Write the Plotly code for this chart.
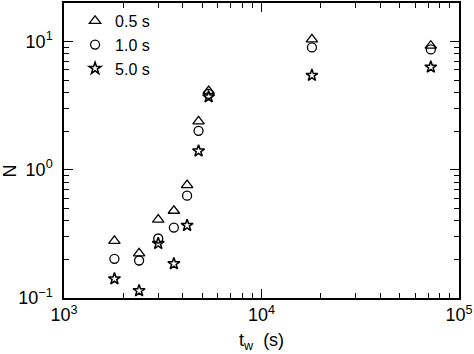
import plotly.graph_objects as go

# waiting time t_w (s)
tw = [1800, 2400, 3000, 3600, 4200, 4800, 5400, 18000, 72000]
# N for each series
n_05 = [0.279, 0.223, 0.408, 0.479, 0.759, 2.38, 4.11, 10.4, 9.27]
n_10 = [0.202, 0.196, 0.291, 0.354, 0.628, 2.01, 3.90, 8.99, 8.67]
n_50 = [0.141, 0.114, 0.266, 0.185, 0.368, 1.40, 3.70, 5.44, 6.31]
series_names = ["0.5 s", "1.0 s", "5.0 s"]

x_major = [1e3, 1e4, 1e5]
x_major_text = ["10<sup>3</sup>", "10<sup>4</sup>", "10<sup>5</sup>"]
y_major = [0.1, 1, 10]
y_major_text = ["10<sup>\u22121</sup>", "10<sup>0</sup>", "10<sup>1</sup>"]

x_minor = [m * 10 ** e for e in (3, 4) for m in range(2, 10)]
y_minor = [m * 10 ** e for e in (-1, 0, 1) for m in range(2, 10)]

FONT = "Liberation Sans, Arial, Helvetica, sans-serif"

fig = go.Figure()
symbols = ["triangle-up-open", "circle-open", "star-open"]
sizes = [10, 9, 9]
widths = [1.3, 1.3, 1.5]
for name, ys, sym, sz, lw in zip(series_names, [n_05, n_10, n_50], symbols, sizes, widths):
    fig.add_trace(go.Scatter(
        x=tw, y=ys, mode="markers", name=name,
        marker=dict(symbol=sym, size=sz, color="black", line=dict(color="black", width=lw)),
    ))

axis_common = dict(
    showline=True, linecolor="black", linewidth=1.5, mirror="ticks",
    ticks="inside", ticklen=9, tickwidth=1.3, tickcolor="black",
    showgrid=False, zeroline=False,
    tickfont=dict(family=FONT, size=18, color="black"),
    ticklabeloverflow="allow",
)

fig.update_xaxes(
    type="log", range=[3, 5], tickmode="array", tickvals=x_major, ticktext=x_major_text,
    minor=dict(tickmode="array", tickvals=x_minor, ticks="inside", ticklen=5, tickwidth=1.2,
               tickcolor="black", showgrid=False),
    **axis_common,
)
fig.update_yaxes(
    type="log", range=[-1, 1.3], tickmode="array", tickvals=y_major, ticktext=y_major_text,
    minor=dict(tickmode="array", tickvals=y_minor, ticks="inside", ticklen=5, tickwidth=1.2,
               tickcolor="black", showgrid=False),
    ticklabelstandoff=6,
    **axis_common,
)

fig.add_annotation(text="t<sub>w</sub>  (s)", xref="paper", yref="paper", x=0.5, y=-0.1,
                   xanchor="center", yanchor="top", showarrow=False,
                   font=dict(family=FONT, size=18, color="black"))
fig.add_annotation(text="N", xref="paper", yref="paper", x=-0.136, y=0.43,
                   xanchor="center", yanchor="middle", showarrow=False, textangle=-90,
                   font=dict(family=FONT, size=18, color="black"))

fig.update_layout(
    width=474, height=354,
    margin=dict(l=64, r=13, t=1, b=56),
    paper_bgcolor="white", plot_bgcolor="white",
    font=dict(family=FONT, size=16, color="black"),
    showlegend=True,
    legend=dict(x=0.028, y=0.997, xanchor="left", yanchor="top", bgcolor="rgba(0,0,0,0)",
                font=dict(family=FONT, size=16, color="black"), borderwidth=0),
)

fig.write_html("out.html")
